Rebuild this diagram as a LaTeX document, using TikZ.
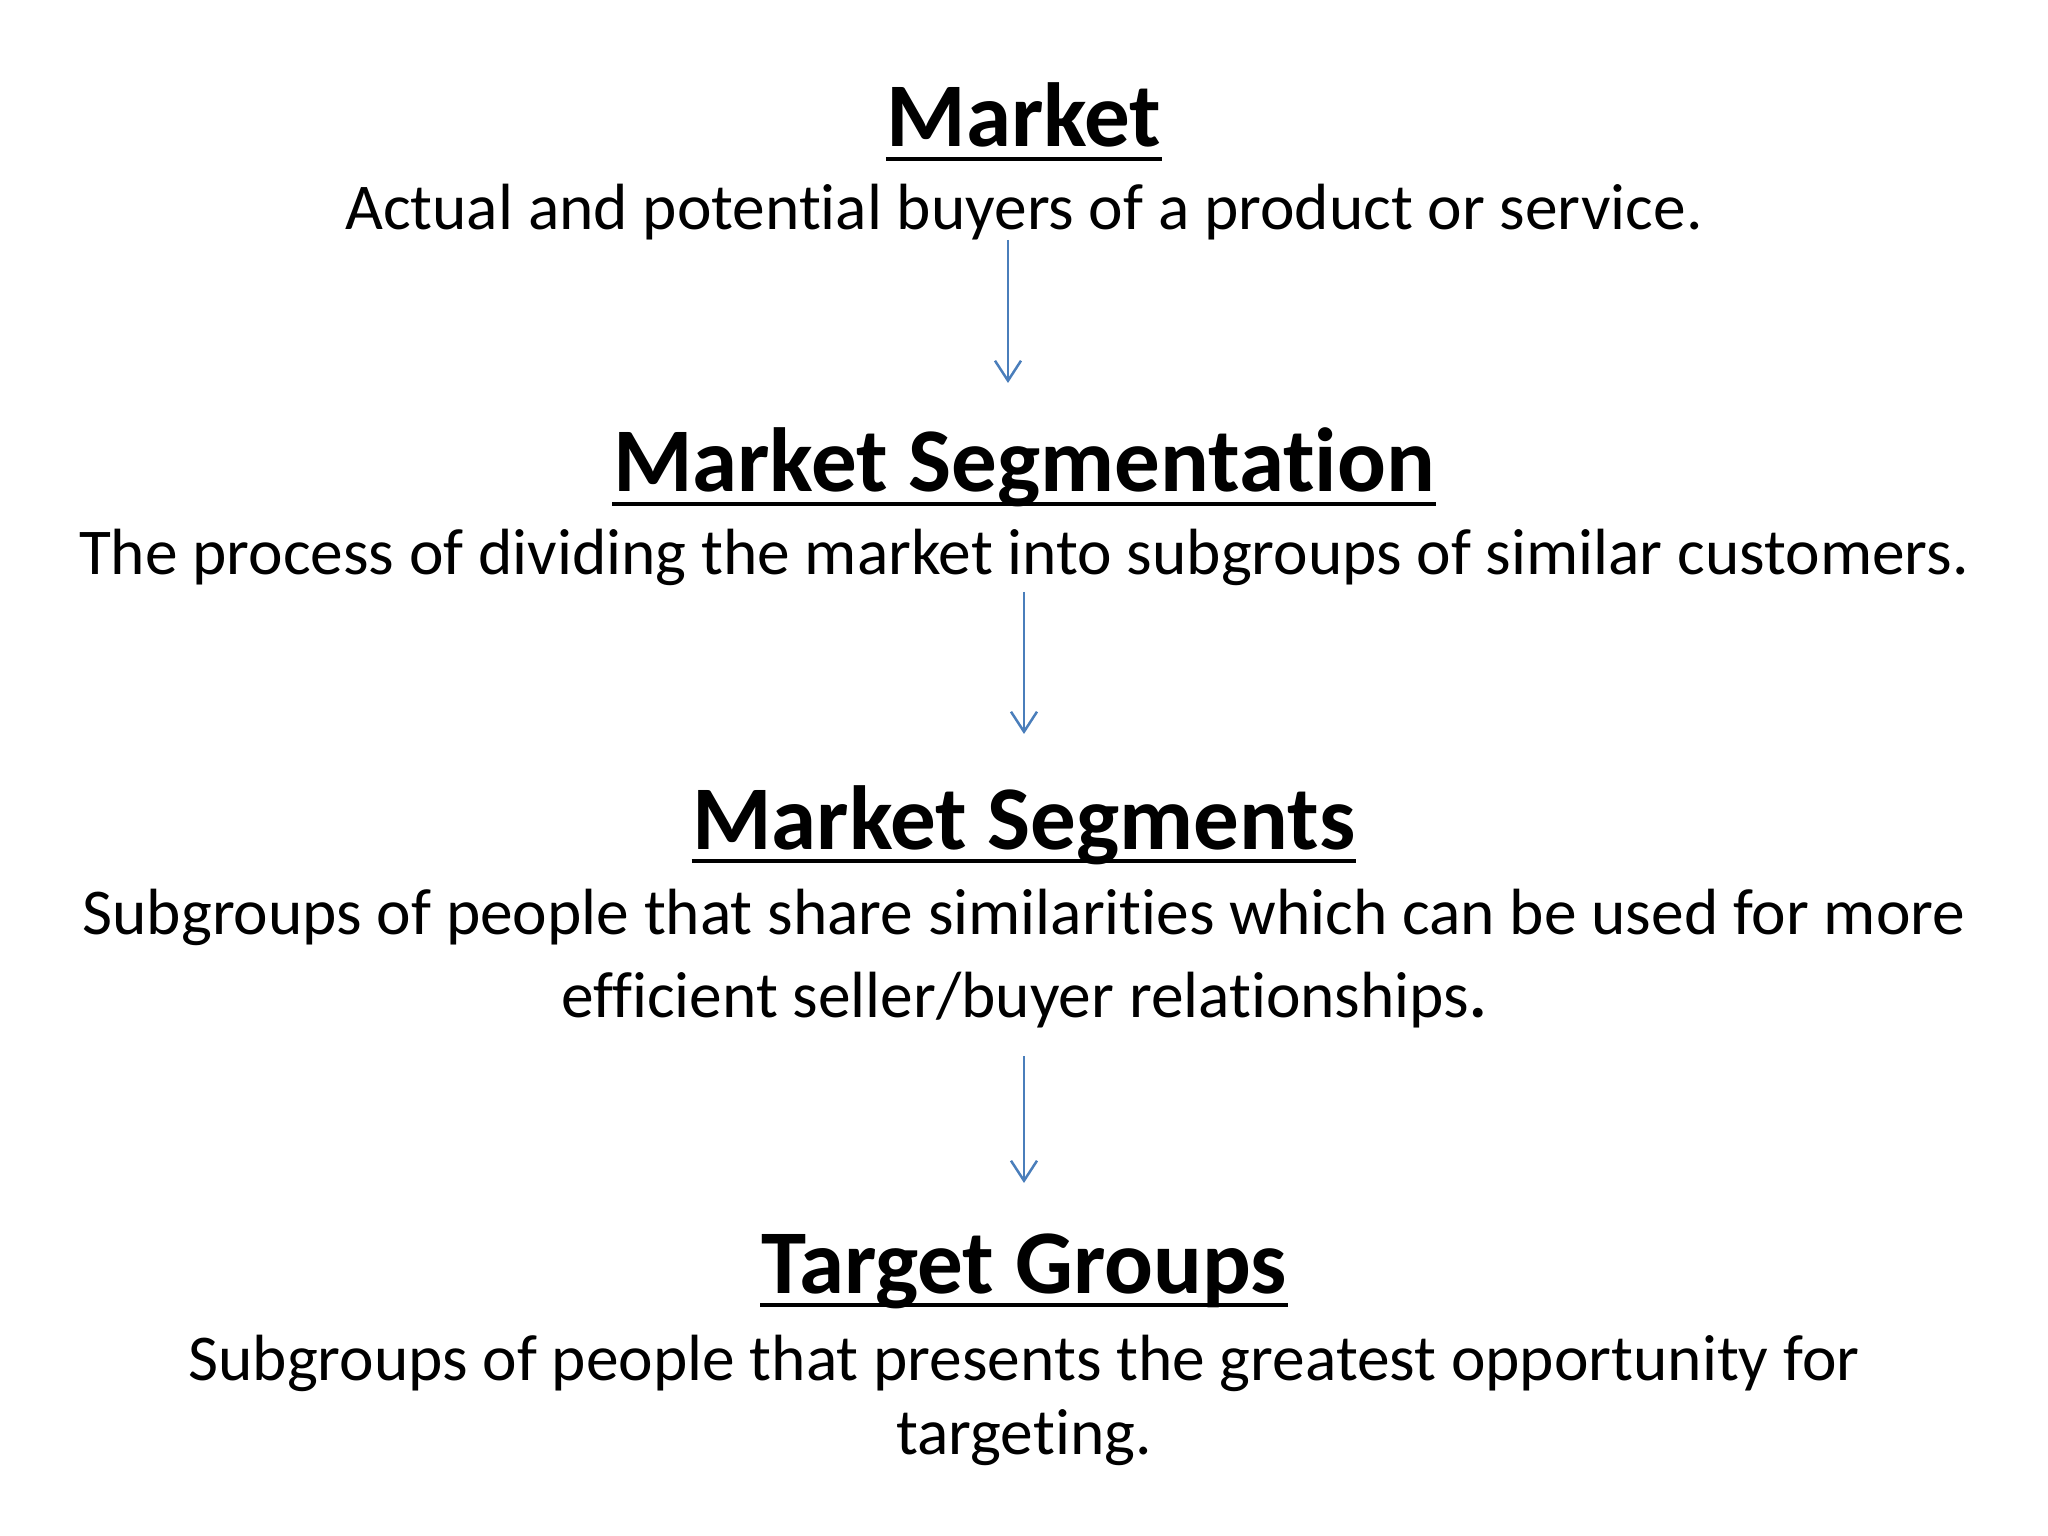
\documentclass[tikz,border=0pt]{standalone}
\usepackage{fontspec}
\setmainfont{Carlito}[Ligatures=NoCommon]
\usetikzlibrary{arrows.meta}
\definecolor{arrowblue}{HTML}{4A7EBB}
\tikzset{
  ttl/.style={anchor=base, inner sep=0pt, font=\bfseries\fontsize{25.9}{30}\selectfont},
  bodytxt/.style={anchor=base, inner sep=0pt, font=\fontsize{18.6}{23}\selectfont},
  uline/.style={line width=0.045cm, black},
  flow/.style={draw=arrowblue, line width=0.025cm, -{Straight Barb[length=0.2cm,width=0.26cm]}}
}
\begin{document}
\begin{tikzpicture}
\useasboundingbox (0,0) rectangle (20.48,-15.36);
% titles and texts
\node[ttl] (t1) at (10.24,-1.47) {Market};
\node[bodytxt] (b1) at (10.24,-2.30) {Actual and potential buyers of a product or service.};
\node[ttl] (t2) at (10.24,-4.92) {Market Segmentation};
\node[bodytxt] (b2) at (10.24,-5.75) {The process of dividing the market into subgroups of similar customers.};
\node[ttl] (t3) at (10.24,-8.49) {Market Segments};
\node[bodytxt] (b3a) at (10.24,-9.34) {Subgroups of people that share similarities which can be used for more};
\node[bodytxt] (b3b) at (10.24,-10.17) {efficient seller/buyer relationships\textbf{.}};
\node[ttl] (t4) at (10.24,-12.93) {Target Groups};
\node[bodytxt] (b4a) at (10.24,-13.80) {Subgroups of people that presents the greatest opportunity for};
\node[bodytxt] (b4b) at (10.24,-14.54) {targeting.};
% underlines
\foreach \n in {t1,t2,t3,t4}
  \draw[uline] ([yshift=-0.12cm]\n.base west) -- ([yshift=-0.12cm]\n.base east);
% arrow ends
\coordinate (a1s) at (10.08,-2.40);
\coordinate (a1e) at (10.08,-3.83);
\coordinate (a2s) at (10.24,-5.92);
\coordinate (a2e) at (10.24,-7.34);
\coordinate (a3s) at (10.24,-10.56);
\coordinate (a3e) at (10.24,-11.83);
\draw[flow] (a1s) -- (a1e);
\draw[flow] (a2s) -- (a2e);
\draw[flow] (a3s) -- (a3e);
\end{tikzpicture}
\end{document}
